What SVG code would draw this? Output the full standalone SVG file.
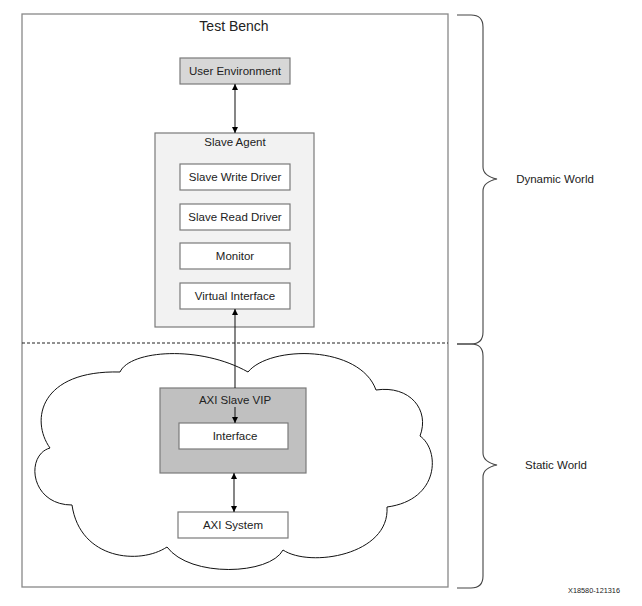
<svg xmlns="http://www.w3.org/2000/svg" width="642" height="606" viewBox="0 0 642 606">
<style>
  text { font-family: "Liberation Sans", Arial, sans-serif; fill: #222; text-anchor: middle; }
  .lbl { font-size: 11.5px; }
  .box { stroke: #7a7a7a; stroke-width: 1.2; }
  .wbox { fill: #ffffff; stroke: #7a7a7a; stroke-width: 1.2; }
  .conn { stroke: #222; stroke-width: 1.1; fill: none; }
  .brace { stroke: #444; stroke-width: 1.1; fill: none; }
</style>
<defs>
  <marker id="ah" viewBox="0 0 10 10" refX="10" refY="5" markerWidth="6" markerHeight="7" markerUnits="userSpaceOnUse" orient="auto-start-reverse">
    <path d="M0,0 L10,5 L0,10 Z" fill="#000"/>
  </marker>
</defs>
<rect width="642" height="606" fill="#ffffff"/>

<g id="test-bench">
  <rect x="22" y="14" width="426" height="573" fill="#ffffff" stroke="#888" stroke-width="1.3"/>
  <text x="234" y="31" style="font-size:14px">Test Bench</text>
</g>

<g id="divider">
  <line x1="22" y1="343" x2="448" y2="343" stroke="#222" stroke-width="1" stroke-dasharray="3,2"/>
</g>

<g id="cloud">
  <path d="M120,372 C130,350 200,345 248,372 C270,345 360,345 376,390 C410,385 430,410 420,436 C440,450 440,500 387,507 C390,555 310,568 283,550 C270,575 190,578 167,547 C140,565 80,560 72,505 C30,505 25,455 50,448 C30,420 40,370 120,372 Z" fill="#ffffff" stroke="#111" stroke-width="1"/>
</g>

<g id="user-environment">
  <rect class="box" x="180" y="58" width="110" height="26" fill="#d7d7d7"/>
  <text class="lbl" x="235" y="75">User Environment</text>
</g>

<g id="slave-agent">
  <rect class="box" x="155" y="133" width="159" height="194" fill="#f2f2f2"/>
  <text class="lbl" x="235" y="146">Slave Agent</text>
</g>

<g id="slave-write-driver">
  <rect class="wbox" x="180" y="164" width="110" height="26"/>
  <text class="lbl" x="235" y="181">Slave Write Driver</text>
</g>

<g id="slave-read-driver">
  <rect class="wbox" x="180" y="204" width="110" height="26"/>
  <text class="lbl" x="235" y="221">Slave Read Driver</text>
</g>

<g id="monitor">
  <rect class="wbox" x="180" y="243" width="110" height="26"/>
  <text class="lbl" x="235" y="260">Monitor</text>
</g>

<g id="virtual-interface">
  <rect class="wbox" x="180" y="283" width="110" height="26"/>
  <text class="lbl" x="235" y="300">Virtual Interface</text>
</g>

<g id="axi-slave-vip">
  <rect class="box" x="160" y="388" width="146" height="85" fill="#c0c0c0"/>
  <text class="lbl" x="235" y="404">AXI Slave VIP</text>
</g>

<g id="interface">
  <rect class="wbox" x="179" y="423" width="109" height="26"/>
  <text class="lbl" x="235" y="440">Interface</text>
</g>

<g id="axi-system">
  <rect class="wbox" x="178" y="512" width="110" height="26"/>
  <text class="lbl" x="233" y="529">AXI System</text>
</g>

<g id="connectors">
  <line class="conn" x1="235" y1="84" x2="235" y2="133" marker-start="url(#ah)" marker-end="url(#ah)"/>
  <line class="conn" x1="235" y1="388" x2="235" y2="309" marker-end="url(#ah)"/>
  <line class="conn" x1="235" y1="407" x2="235" y2="423" marker-end="url(#ah)"/>
  <line class="conn" x1="234" y1="473" x2="234" y2="512" marker-start="url(#ah)" marker-end="url(#ah)"/>
</g>

<g id="dynamic-world">
  <path class="brace" d="M457,15 H471 Q483,15 483,27 V167 Q483,176 497,179 Q483,182 483,191 V332 Q483,344 471,344 H457"/>
  <text class="lbl" x="555" y="183">Dynamic World</text>
</g>

<g id="static-world">
  <path class="brace" d="M457,344 H471 Q483,344 483,356 V453 Q483,462 497,465 Q483,468 483,477 V576 Q483,588 471,588 H457"/>
  <text class="lbl" x="556" y="469">Static World</text>
</g>

<g id="footer">
  <text x="594" y="593" style="font-size:7.3px">X18580-121316</text>
</g>
</svg>
